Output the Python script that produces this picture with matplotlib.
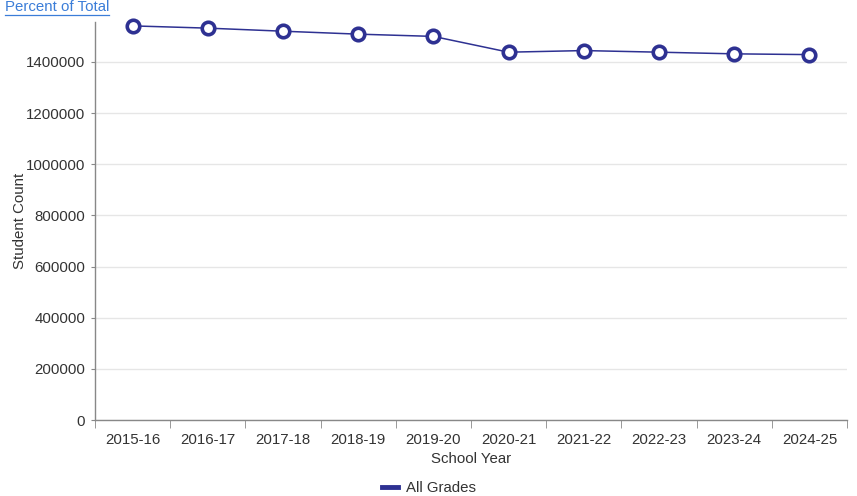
import matplotlib.pyplot as plt
from matplotlib.lines import Line2D

plt.rcParams['font.family'] = ['Liberation Sans', 'DejaVu Sans']

years = ['2015-16', '2016-17', '2017-18', '2018-19', '2019-20',
         '2020-21', '2021-22', '2022-23', '2023-24', '2024-25']
student_count = [1540800, 1532000, 1520000, 1508500, 1499700,
                 1438000, 1444300, 1438000, 1431500, 1428500]
y_ticks = [0, 200000, 400000, 600000, 800000, 1000000, 1200000, 1400000]

line_color = '#2E3192'
grid_color = '#e6e6e6'
axis_color = '#888888'
text_color = '#333333'
fs = 10.8

fig = plt.figure(figsize=(8.57, 4.96), dpi=100)
ax = fig.add_axes([95 / 857, 76 / 496, 752 / 857, 398 / 496])

x = list(range(len(years)))
ax.plot(x, student_count, color=line_color, linewidth=1.1,
        marker='o', markersize=9, markerfacecolor='white',
        markeredgecolor=line_color, markeredgewidth=2.6, zorder=3,
        clip_on=False)

ax.set_xlim(-0.5, len(years) - 0.5)
ax.set_ylim(0, 1556000)
ax.set_yticks(y_ticks)
ax.set_yticklabels([str(v) for v in y_ticks])
ax.grid(axis='y', color=grid_color, linewidth=1)
ax.set_axisbelow(True)

# category labels centred, tick marks on boundaries
ax.set_xticks(x)
ax.set_xticklabels(years)
ax.tick_params(axis='x', which='major', length=0, pad=9,
               labelsize=fs, labelcolor=text_color)
ax.set_xticks([i - 0.5 for i in range(len(years) + 1)], minor=True)
ax.tick_params(axis='x', which='minor', length=6, color=axis_color)
ax.tick_params(axis='y', length=3, color=axis_color, pad=4,
               labelsize=fs, labelcolor=text_color)

for side in ['top', 'right']:
    ax.spines[side].set_visible(False)
for side in ['left', 'bottom']:
    ax.spines[side].set_color(axis_color)
    ax.spines[side].set_linewidth(1)

ax.set_xlabel('School Year', fontsize=fs, color=text_color, labelpad=4)
ax.set_ylabel('Student Count', fontsize=fs, color=text_color, labelpad=-1)

fig.text(5 / 857, 1 - 7 / 496, 'Percent of Total', color='#3b7dd8',
         fontsize=fs, va='center', ha='left')
# underline for the link
fig.add_artist(Line2D([5 / 857, 109 / 857], [1 - 14.5 / 496, 1 - 14.5 / 496],
                      color='#3b7dd8', linewidth=0.9))

handle = Line2D([], [], color=line_color, linewidth=3.5)
fig.legend([handle], ['All Grades'], loc='center', bbox_to_anchor=(0.5, 1 - 488 / 496),
           frameon=False, fontsize=fs, handlelength=1.1, handletextpad=0.5,
           labelcolor=text_color)

fig.savefig('out.png', dpi=100)
